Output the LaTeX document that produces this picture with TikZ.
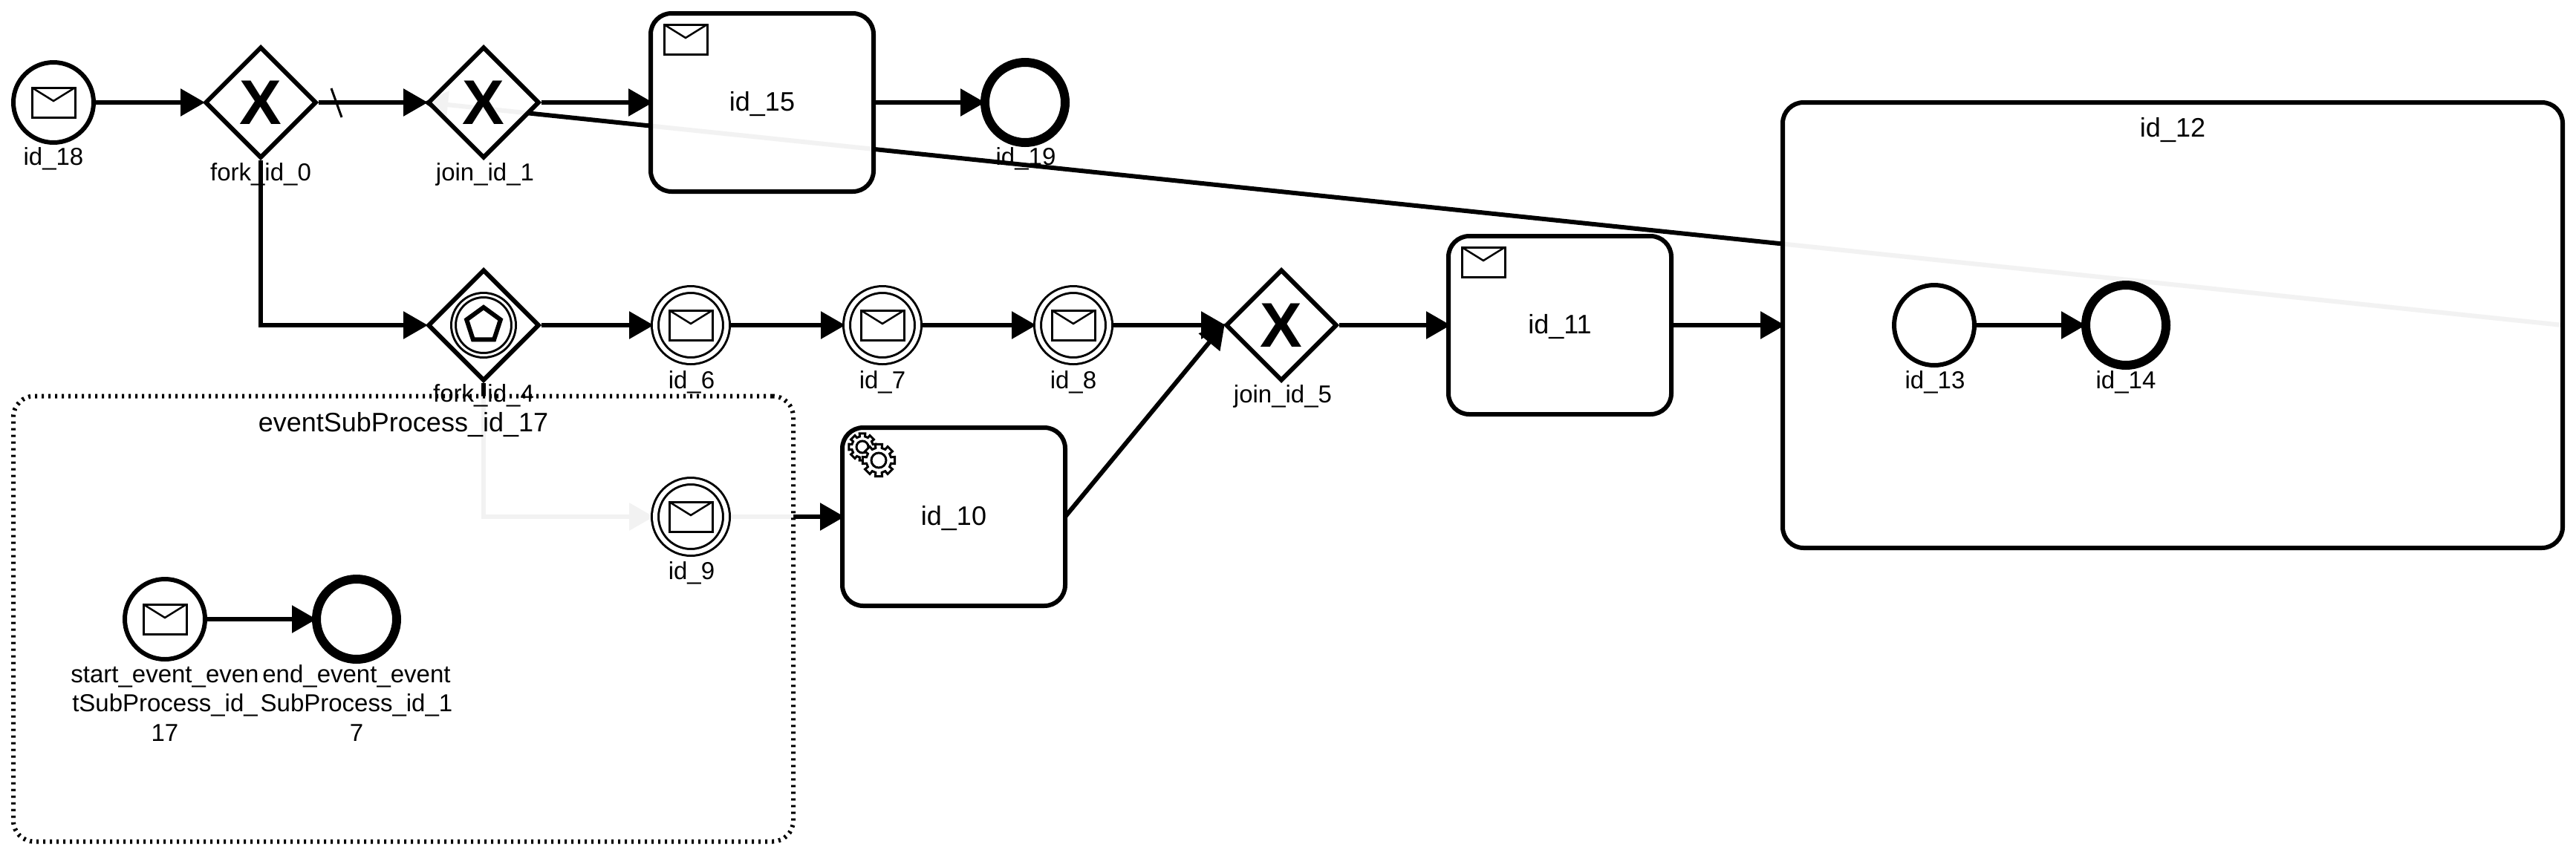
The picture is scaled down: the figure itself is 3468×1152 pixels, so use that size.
\documentclass[tikz,border=0pt]{standalone}
\usepackage{fontspec}
\setmainfont{Liberation Sans}
\usetikzlibrary{positioning, calc, shapes.geometric, arrows.meta, backgrounds}

\tikzset{
	base/.style={draw, fill=white, fill opacity=0.95, text opacity=1, inner sep=0pt},
	event/.style={base, circle, minimum size=108pt, line width=6pt, outer sep=1pt},
	catch/.style={base, circle, minimum size=96pt, line width=3pt, double, double distance=6pt, outer sep=5pt},
	endevent/.style={base, circle, minimum size=108pt, line width=12pt, outer sep=3pt},
	gateway/.style={base, diamond, minimum width=150pt, minimum height=150pt, line width=6pt, font=\fontsize{85}{85}\bfseries\selectfont},
	task/.style={base, rounded corners=28pt, minimum width=300pt, minimum height=240pt, line width=6pt, outer sep=0pt, text height=26pt, text depth=3.4pt, font=\fontsize{36}{40}\selectfont},
	subproc/.style={base, rounded corners=28pt, minimum width=1050pt, minimum height=600pt, line width=6pt, outer sep=0pt},
	title/.style={anchor=base, font=\fontsize{36}{40}\selectfont},
	lbl/.style={anchor=base, font=\fontsize{33}{39.6}\selectfont, align=center},
	flow/.style={draw, line width=6pt, shorten >=-3pt, -{Triangle[length=33pt,width=36pt]}},
	icon/.style={draw, line width=3pt, fill=white}
}

% envelope around a centre
\newcommand{\mailicon}[1]{
	\draw [icon] ($(#1)+(-29,-20)$) rectangle ($(#1)+(29,20)$);
	\draw [line width=2.5pt] ($(#1)+(-29,-20)$) -- ($(#1)+(0,-2)$) -- ($(#1)+(29,-20)$);
}
% one gear: centre, tip radius, root radius, hole radius
\newcommand{\gearicon}[4]{
	\draw [icon, line join=miter] ($(#1)+(-12:#2)$) \foreach \a in {0,45,...,315} {
		-- ($(#1)+(\a-12:#2)$) -- ($(#1)+(\a+12:#2)$) -- ($(#1)+(\a+14:#3)$) -- ($(#1)+(\a+31:#3)$)
	} -- cycle;
	\draw [line width=3pt] (#1) circle (#4);
}

\begin{document}
\begin{tikzpicture}[x=1pt, y=-1pt]
	\useasboundingbox (0,0) rectangle (3468,1152);

	% upper row
	\node (id_18) [event] at (72,138) {};
	\node (fork_id_0) [gateway] at (351,138) {X};
	\node (join_id_1) [gateway] at (651,138) {X};
	\node (id_15) [task] at (1026,138) {id\_15};
	\node (id_19) [endevent] at (1380,138) {};
	\mailicon{id_18}
	\mailicon{$(id_15)+(-103,-85)$}

	% sub process with its own events
	\node (eventSubProcess_id_17) [subproc, dotted, dash pattern=on 3pt off 6pt] at (543,833.5) {};
	\node (start_event) [event] at (222,834) {};
	\node (end_event) [endevent] at (480,834) {};
	\mailicon{start_event}
	\draw [flow] (start_event) -- (end_event);

	% middle row
	\node (fork_id_4) [gateway] at (651,438) {};
	\node (id_6) [catch] at (930,438) {};
	\node (id_7) [catch] at (1188,438) {};
	\node (id_8) [catch] at (1445,438) {};
	\node (id_9) [catch] at (930,696) {};
	\node (id_10) [task] at (1284,696) {id\_10};
	\node (join_id_5) [gateway] at (1725,438) {X};
	\node (id_11) [task] at (2100,438) {id\_11};
	\draw [line width=3pt, double, double distance=3pt] (fork_id_4.center) circle (40.5);
	\node (pentagon) [draw, regular polygon, regular polygon sides=5, minimum size=48pt, inner sep=0pt, line width=6pt] at (fork_id_4) {};
	\foreach \n in {id_6, id_7, id_8, id_9} {
		\mailicon{\n}
	}
	\mailicon{$(id_11)+(-103,-85)$}
	\gearicon{1161,602}{18.5}{14.5}{8}
	\gearicon{1183,620}{22}{17}{10}

	% big task at the right
	\node (id_12) [subproc] at (2925,438) {};
	\node (id_13) [event] at (2604,438) {};
	\node (id_14) [endevent] at (2862,438) {};
	\draw [flow] (id_13) -- (id_14);

	% labels
	\node (lbl_18) [lbl] at (72,222) {id\_18};
	\node (lbl_0) [lbl] at (351,243) {fork\_id\_0};
	\node (lbl_1) [lbl] at (653,243) {join\_id\_1};
	\node (lbl_19) [lbl] at (1381,222) {id\_19};
	\node (lbl_4) [lbl] at (651,541.5) {fork\_id\_4};
	\node (lbl_6) [lbl] at (931,523) {id\_6};
	\node (lbl_7) [lbl] at (1188,523) {id\_7};
	\node (lbl_8) [lbl] at (1445,523) {id\_8};
	\node (lbl_9) [lbl] at (931,780) {id\_9};
	\node (lbl_5) [lbl] at (1727,542.5) {join\_id\_5};
	\node (lbl_13) [lbl] at (2605,523) {id\_13};
	\node (lbl_14) [lbl] at (2862,523) {id\_14};
	\node (lbl_17) [title] at (543,581) {eventSubProcess\_id\_17};
	\node (lbl_12) [title] at (2925,184.5) {id\_12};
	\node (lbl_start) [lbl, anchor=north] at (222,888) {\strut start\_event\_even\\tSubProcess\_id\_\\17};
	\node (lbl_end) [lbl, anchor=north] at (480,888) {\strut end\_event\_event\\SubProcess\_id\_1\\7};

	% flows run below the half transparent fills
	\begin{scope}[on background layer]
		\draw [flow] (id_18) -- (fork_id_0);
		\draw [flow] (fork_id_0) -- (join_id_1);
		\draw [line width=3pt] ($(fork_id_0.east)+(17,-19)$) -- ($(fork_id_0.east)+(31,20)$);
		\draw [flow] (join_id_1) -- (id_15);
		\draw [flow] (id_15) -- (id_19);
		\draw [flow] (fork_id_0.south) |- (fork_id_4.west);
		\draw [flow] (fork_id_4) -- (id_6);
		\draw [flow] (id_6) -- (id_7);
		\draw [flow] (id_7) -- (id_8);
		\draw [flow] (id_8) -- (join_id_5);
		\draw [flow] (fork_id_4.south) |- (id_9.west);
		\draw [flow] (id_9) -- (id_10);
		\draw [flow] (id_10.east) -- (join_id_5.west);
		\draw [flow] (join_id_5) -- (id_11);
		\draw [flow] (id_11) -- (id_12);
		\draw [flow] (id_12.east) -- (join_id_1.west);
	\end{scope}
\end{tikzpicture}
\end{document}
